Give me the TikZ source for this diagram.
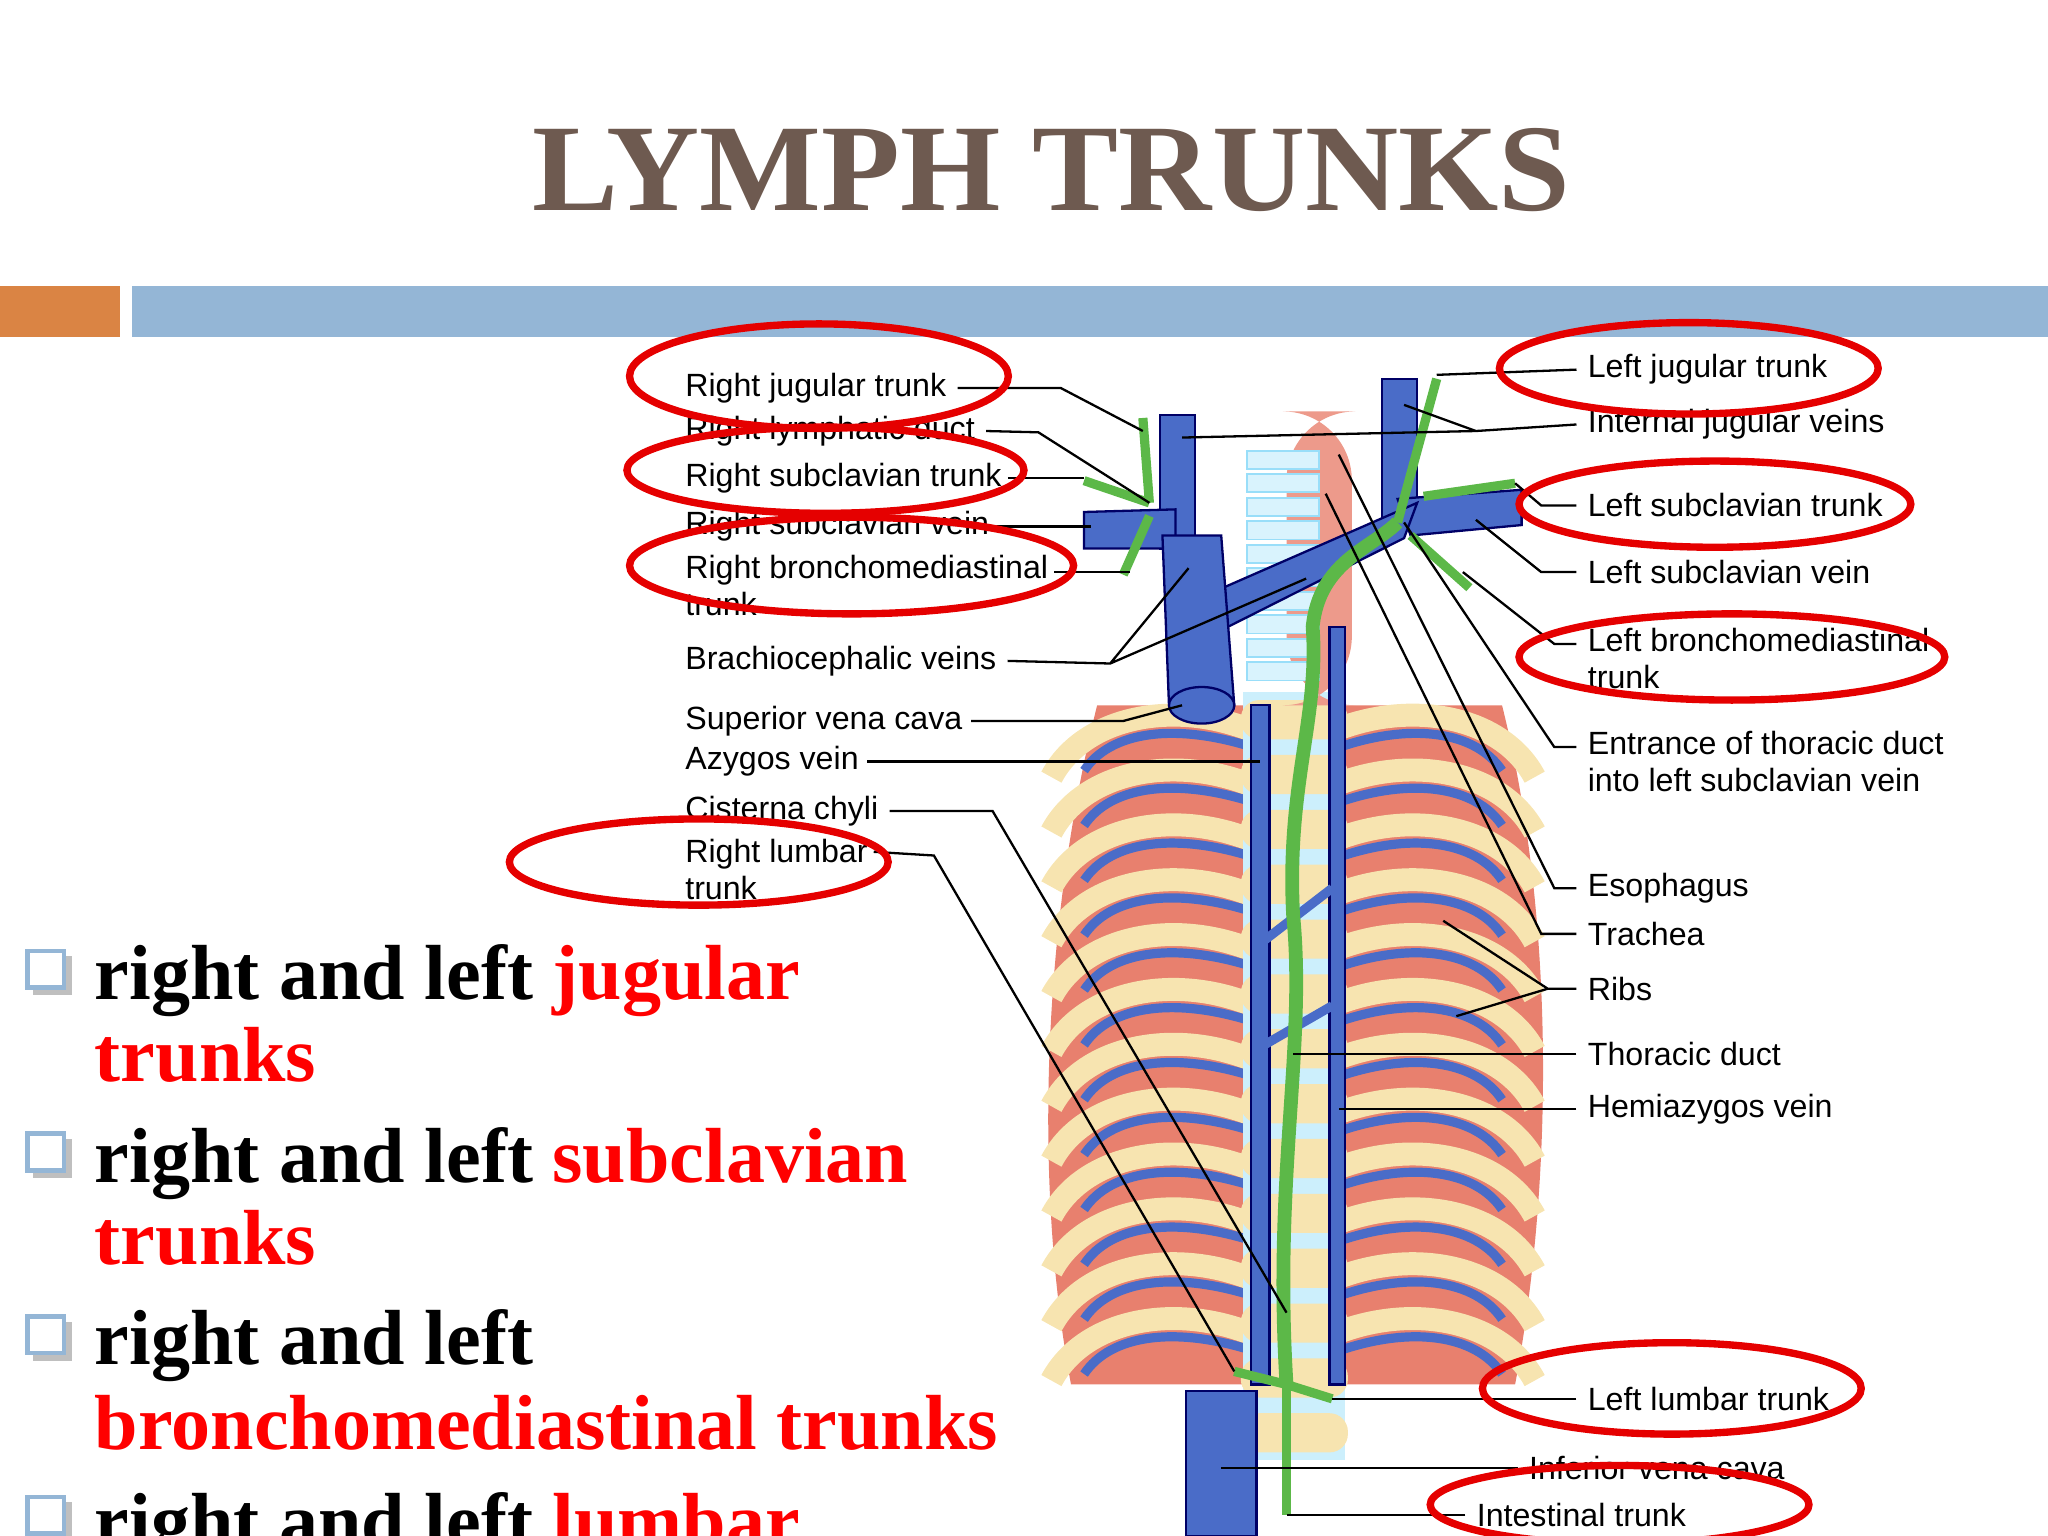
\documentclass[tikz,border=0pt]{standalone}
\usepackage{fontspec}
\setmainfont{Liberation Serif}
\setsansfont{Liberation Sans}
\begin{document}
\begin{tikzpicture}[x=0.01cm,y=-0.01cm,
  lbl/.style={font=\sffamily\fontsize{7}{8}\selectfont,anchor=west,inner sep=0pt,align=left},
  lead/.style={black,line width=0.5pt},
  ring/.style={draw=red!90!black,line width=1.6pt},
  vein/.style={draw=blue!40!black,fill=vb,line width=0.5pt},
  bul/.style={font=\bfseries\fontsize{17}{20}\selectfont,anchor=base west,inner sep=0pt}]
\definecolor{vb}{HTML}{4A6CC8}
\definecolor{sal}{HTML}{E8806E}
\definecolor{crm}{HTML}{F7E4B0}
\definecolor{gr}{HTML}{5CB848}
\definecolor{ttl}{HTML}{6E5A50}
\definecolor{barO}{HTML}{DA8444}
\definecolor{barB}{HTML}{94B6D6}
\useasboundingbox (0,0) rectangle (1568,1176);
\clip (0,0) rectangle (1568,1176);
% title
\node[text=ttl,font=\bfseries\fontsize{27}{30}\selectfont] (title) at (805,130) {\scalebox{1.04}[1]{LYMPH TRUNKS}};
\fill[barO] (0,219) rectangle (92,258);
\fill[barB] (101,219) rectangle (1568,258);
% ---- illustration
\fill[sal] (840,540) .. controls (800,700) and (790,900) .. (820,1060) -- (1160,1060) .. controls (1190,900) and (1190,700) .. (1150,540) -- cycle;
\foreach \k in {0,...,11}{
  \pgfmathsetmacro\yy{560+\k*42}
  \draw[crm,line width=5pt] (960,\yy) .. controls (900,\yy-25) and (830,\yy-12) .. (805,\yy+35);
  \draw[crm,line width=5pt] (1020,\yy) .. controls (1080,\yy-25) and (1150,\yy-12) .. (1175,\yy+35);
  \draw[vb,line width=2pt] (965,\yy+14) .. controls (900,\yy-8) and (850,\yy) .. (830,\yy+30);
  \draw[vb,line width=2pt] (1020,\yy+14) .. controls (1080,\yy-8) and (1130,\yy) .. (1150,\yy+30);
}
\foreach \k in {0,...,13}{
  \pgfmathsetmacro\yy{530+\k*42}
  \fill[cyan!20] (952,\yy) rectangle (1030,\yy+42);
  \fill[crm,rounded corners=4] (950,\yy+6) rectangle (1032,\yy+36);
}
% esophagus & trachea
\fill[sal!80!white,rounded corners=15] (985,315) rectangle (1035,540);
\foreach \k in {0,...,9}{
  \pgfmathsetmacro\yy{345+\k*18}
  \fill[cyan!15,draw=cyan!40] (955,\yy) rectangle (1010,\yy+14);
}
% veins
\path[vein] (1058,290) rectangle (1085,400);
\path[vein] (888,318) rectangle (915,420);
\path[vein] (830,392) -- (900,390) -- (900,420) -- (830,420) -- cycle;
\path[vein] (1070,382) -- (1165,375) -- (1165,402) -- (1080,410) -- cycle;
\path[vein] (1085,385) -- (1075,412) -- (940,480) -- (925,455) -- cycle;
\path[vein] (890,410) -- (935,410) -- (945,540) -- (895,540) -- cycle;
\path[vein] (920,540) ellipse (25 and 14);
\path[vein] (958,540) -- (972,540) -- (972,1060) -- (958,1060) -- cycle;
\path[vein] (1018,480) -- (1030,480) -- (1030,1060) -- (1018,1060) -- cycle;
\path[vein] (908,1065) rectangle (962,1176);
\draw[vb,line width=2pt] (968,720) -- (1020,680);
\draw[vb,line width=2pt] (968,800) -- (1020,770);
% thoracic duct
\draw[gr,line width=3pt] (985,1060) .. controls (975,900) and (1000,800) .. (990,700)
  .. controls (985,600) and (1010,550) .. (1005,480) .. controls (1010,430) and (1050,420) .. (1070,400);
\draw[gr,line width=2pt] (1070,400) -- (1100,290);
\draw[gr,line width=2pt] (1090,380) -- (1160,370);
\draw[gr,line width=2pt] (1080,410) -- (1125,450);
\draw[gr,line width=2pt] (880,385) -- (875,320);
\draw[gr,line width=2pt] (880,385) -- (830,368);
\draw[gr,line width=2pt] (880,395) -- (860,440);
\draw[gr,line width=2pt] (985,1060) -- (945,1050);
\draw[gr,line width=2pt] (985,1060) -- (1020,1071);
\draw[gr,line width=2pt] (985,1060) -- (985,1160);
% ---- labels
\node[lbl] (rjt) at (524,297) {Right jugular trunk};
\node[lbl] (rld) at (524,330) {Right lymphatic duct};
\node[lbl] (rst) at (524,366) {Right subclavian trunk};
\node[lbl] (rsv) at (524,403) {Right subclavian vein};
\node[lbl] (rbt) at (524,448) {Right bronchomediastinal\\trunk};
\node[lbl] (bcv) at (524,506) {Brachiocephalic veins};
\node[lbl] (svc) at (524,552) {Superior vena cava};
\node[lbl] (azv) at (524,583) {Azygos vein};
\node[lbl] (cch) at (524,621) {Cisterna chyli};
\node[lbl] (rlt) at (524,666) {Right lumbar\\trunk};
\node[lbl] (ljt) at (1215,283) {Left jugular trunk};
\node[lbl] (ijv) at (1215,325) {Internal jugular veins};
\node[lbl] (lst) at (1215,387) {Left subclavian trunk};
\node[lbl] (lsv) at (1215,438) {Left subclavian vein};
\node[lbl] (lbt) at (1215,504) {Left bronchomediastinal\\trunk};
\node[lbl] (etd) at (1215,583) {Entrance of thoracic duct\\into left subclavian vein};
\node[lbl] (eso) at (1215,680) {Esophagus};
\node[lbl] (tra) at (1215,715) {Trachea};
\node[lbl] (rib) at (1215,757) {Ribs};
\node[lbl] (tdu) at (1215,807) {Thoracic duct};
\node[lbl] (hav) at (1215,849) {Hemiazygos vein};
\node[lbl] (llt) at (1215,1071) {Left lumbar trunk};
\node[lbl] (ivc) at (1170,1124) {Inferior vena cava};
\node[lbl] (itr) at (1130,1160) {Intestinal trunk};
% leaders
\coordinate (p1) at (875,330); \coordinate (p2) at (880,385); \coordinate (p3) at (830,366);
\coordinate (p4) at (835,403); \coordinate (p5) at (865,438); \coordinate (p6a) at (910,435);
\coordinate (p6b) at (1000,443); \coordinate (p7) at (905,540); \coordinate (p8) at (965,583);
\coordinate (p9) at (985,1005); \coordinate (p10) at (945,1050);
\draw[lead] (rjt.east) ++(8,0) -- (812,297) -- (p1);
\draw[lead] (rld.east) ++(8,0) -- (795,331) -- (p2);
\draw[lead] (rst.east) ++(4,0) -- (p3);
\draw[lead] (rsv.east) ++(4,0) -- (p4);
\draw[lead] (rbt.east|-p5) ++(4,0) -- (p5);
\draw[lead] (bcv.east) ++(8,0) -- (850,508) -- (p6a) (850,508) -- (p6b);
\draw[lead] (svc.east) ++(6,0) -- (860,552) -- (p7);
\draw[lead] (azv.east) ++(6,0) -- (p8);
\draw[lead] (cch.east) ++(8,0) -- (760,621) -- (p9);
\draw[lead] (rlt.north east) ++(4,10) -- (715,655) -- (p10);
\coordinate (q1) at (1100,287); \coordinate (q2a) at (1075,310); \coordinate (q2b) at (905,335);
\coordinate (q3) at (1160,370); \coordinate (q4) at (1130,398); \coordinate (q5) at (1120,438);
\coordinate (q6) at (1075,400); \coordinate (q7) at (1025,348); \coordinate (q8) at (1015,378);
\coordinate (q9a) at (1105,705); \coordinate (q9b) at (1115,778); \coordinate (q10) at (990,807);
\coordinate (q11) at (1025,849); \coordinate (q12) at (1020,1071); \coordinate (q13) at (935,1124);
\coordinate (q14) at (985,1160);
\draw[lead] (1207,283) -- (q1);
\draw[lead] (1207,325) -- (1130,330) -- (q2a) (1130,330) -- (q2b);
\draw[lead] (1207,387) -- (1180,387) -- (q3);
\draw[lead] (1207,438) -- (1180,438) -- (q4);
\draw[lead] (1207,493) -- (1190,493) -- (q5);
\draw[lead] (1207,572) -- (1190,572) -- (q6);
\draw[lead] (1207,680) -- (1190,680) -- (q7);
\draw[lead] (1207,715) -- (1180,715) -- (q8);
\draw[lead] (1207,757) -- (1185,757) -- (q9a) (1185,757) -- (q9b);
\draw[lead] (1207,807) -- (q10);
\draw[lead] (1207,849) -- (q11);
\draw[lead] (1207,1071) -- (q12);
\draw[lead] (1162,1124) -- (q13);
\draw[lead] (1122,1160) -- (q14);
% red rings
\draw[ring] (627,288) ellipse (145 and 40);
\draw[ring] (632,360) ellipse (152 and 33);
\draw[ring] (652,433) ellipse (170 and 37);
\draw[ring] (535,660) ellipse (145 and 33);
\draw[ring] (1293,282) ellipse (145 and 35);
\draw[ring] (1313,386) ellipse (150 and 33);
\draw[ring] (1326,503) ellipse (163 and 33);
\draw[ring] (1280,1063) ellipse (145 and 35);
\draw[ring] (1240,1152) ellipse (145 and 30);
% bullets
\foreach \yb in {742,882,1022,1160}{
  \fill[gray!50] (25,\yb-10) rectangle (55,\yb+20);
  \draw[barB,fill=white,line width=1pt] (21,\yb-14) rectangle (49,\yb+14);
}
\node[bul] (b1) at (72,765) {right and left \textcolor{red}{jugular}};
\node[bul] (b1b) at (72,828) {\textcolor{red}{trunks}};
\node[bul] (b2) at (72,905) {right and left \textcolor{red}{subclavian}};
\node[bul] (b2b) at (72,968) {\textcolor{red}{trunks}};
\node[bul] (b3) at (72,1045) {right and left};
\node[bul] (b3b) at (72,1110) {\textcolor{red}{bronchomediastinal trunks}};
\node[bul] (b4) at (72,1185) {right and left \textcolor{red}{lumbar}};
\end{tikzpicture}
\end{document}
